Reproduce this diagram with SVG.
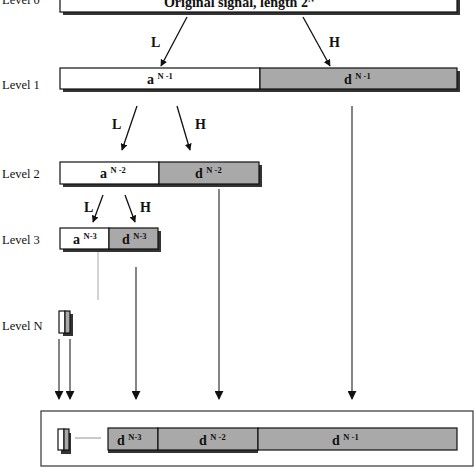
<svg xmlns="http://www.w3.org/2000/svg" width="474" height="474" viewBox="0 0 474 474">
<defs>
<style>
.box{stroke:#111;stroke-width:1.2}
.w{fill:#fff}
.g{fill:#a9a9a9}
.sh{fill:#333}
.lv{font-family:"Liberation Serif",serif;font-size:12.5px;fill:#111}
.lb{font-family:"Liberation Serif",serif;font-size:14px;font-weight:bold;fill:#111}
.sup{font-size:8.5px}
.ar{stroke:#111;stroke-width:1.3;fill:none}
.vl{stroke:#333;stroke-width:1.2;fill:none}
</style>
<marker id="ah" viewBox="0 0 10 10" refX="9" refY="5" markerWidth="7" markerHeight="7" orient="auto" markerUnits="userSpaceOnUse">
<path d="M0,0 L10,5 L0,10 z" fill="#111"/>
</marker>
<marker id="ah2" viewBox="0 0 10 10" refX="9" refY="5" markerWidth="9" markerHeight="9" orient="auto" markerUnits="userSpaceOnUse">
<path d="M0,0 L10,5 L0,10 z" fill="#111"/>
</marker>
</defs>
<rect width="474" height="474" fill="#fff"/>

<g id="level0">
<text class="lv" x="2" y="4">Level 0</text>
<rect class="sh" x="63" y="-17" width="397" height="32"/>
<rect class="box w" x="60" y="-20" width="397" height="32"/>
<text class="lb" x="239" y="7" text-anchor="middle">Original signal, length 2<tspan class="sup" dy="-5">N</tspan></text>
</g>

<g id="level1">
<text class="lv" x="2" y="89">Level 1</text>
<rect class="sh" x="63" y="71" width="397" height="21"/>
<rect class="box w" x="60" y="68" width="200" height="21"/>
<rect class="box g" x="260" y="68" width="197" height="21"/>
<text class="lb" x="147" y="84">a <tspan class="sup" dy="-5">N -1</tspan></text>
<text class="lb" x="344" y="84">d <tspan class="sup" dy="-5">N -1</tspan></text>
</g>

<g id="level2">
<text class="lv" x="2" y="178">Level 2</text>
<rect class="sh" x="63" y="165" width="199" height="22"/>
<rect class="box w" x="60" y="162" width="99" height="22"/>
<rect class="box g" x="159" y="162" width="100" height="22"/>
<text class="lb" x="100" y="178">a <tspan class="sup" dy="-5">N -2</tspan></text>
<text class="lb" x="195" y="178">d <tspan class="sup" dy="-5">N -2</tspan></text>
</g>

<g id="level3">
<text class="lv" x="2" y="244">Level 3</text>
<rect class="sh" x="63" y="231" width="98" height="21"/>
<rect class="box w" x="60" y="228" width="49" height="21"/>
<rect class="box g" x="109" y="228" width="49" height="21"/>
<text class="lb" x="73" y="244">a <tspan class="sup" dy="-5">N-3</tspan></text>
<text class="lb" x="122" y="244">d <tspan class="sup" dy="-5">N-3</tspan></text>
</g>

<g id="levelN">
<text class="lv" x="2" y="330">Level N</text>
<rect class="sh" x="63" y="314" width="10" height="22"/>
<rect class="box w" x="59" y="311" width="6" height="22"/>
<rect class="box g" x="65" y="311" width="5" height="22"/>
</g>

<g id="result">
<rect x="41" y="411" width="432" height="55" fill="#fff" stroke="#333" stroke-width="1.2"/>
<rect class="sh" x="61" y="433" width="10" height="21"/>
<rect class="box w" x="58" y="429" width="6" height="21"/>
<rect class="box g" x="64" y="429" width="5" height="21"/>
<line x1="75" y1="438" x2="101" y2="438" stroke="#666" stroke-width="0.7"/>
<rect class="sh" x="108" y="431" width="150" height="22"/>
<rect class="box g" x="108" y="428" width="50" height="22"/>
<rect class="box g" x="158" y="428" width="100" height="22"/>
<rect class="box g" x="258" y="428" width="199" height="22"/>
<text class="lb" x="117" y="445">d <tspan class="sup" dy="-5">N-3</tspan></text>
<text class="lb" x="199" y="445">d <tspan class="sup" dy="-5">N -2</tspan></text>
<text class="lb" x="332" y="445">d <tspan class="sup" dy="-5">N -1</tspan></text>
</g>

<g id="connectors">
<line class="ar" x1="187" y1="17" x2="161" y2="66" marker-end="url(#ah)"/>
<line class="ar" x1="303" y1="17" x2="330" y2="66" marker-end="url(#ah)"/>
<text class="lb" x="151" y="47">L</text>
<text class="lb" x="329" y="47">H</text>

<line class="ar" x1="137" y1="106" x2="122" y2="150" marker-end="url(#ah)"/>
<line class="ar" x1="177" y1="106" x2="190" y2="150" marker-end="url(#ah)"/>
<text class="lb" x="112" y="129">L</text>
<text class="lb" x="195" y="129">H</text>

<line class="ar" x1="103" y1="195" x2="93" y2="222" marker-end="url(#ah)"/>
<line class="ar" x1="125" y1="195" x2="135" y2="222" marker-end="url(#ah)"/>
<text class="lb" x="84" y="212">L</text>
<text class="lb" x="140" y="212">H</text>

<line x1="98" y1="252" x2="98" y2="300" stroke="#aaa" stroke-width="1"/>

<line class="vl" x1="352" y1="106" x2="352" y2="399" marker-end="url(#ah2)"/>
<line class="vl" x1="219" y1="189" x2="219" y2="399" marker-end="url(#ah2)"/>
<line class="vl" x1="136" y1="267" x2="136" y2="399" marker-end="url(#ah2)"/>
<line class="vl" x1="59" y1="339" x2="59" y2="399" marker-end="url(#ah2)"/>
<line class="vl" x1="70" y1="339" x2="70" y2="399" marker-end="url(#ah2)"/>
</g>
</svg>
